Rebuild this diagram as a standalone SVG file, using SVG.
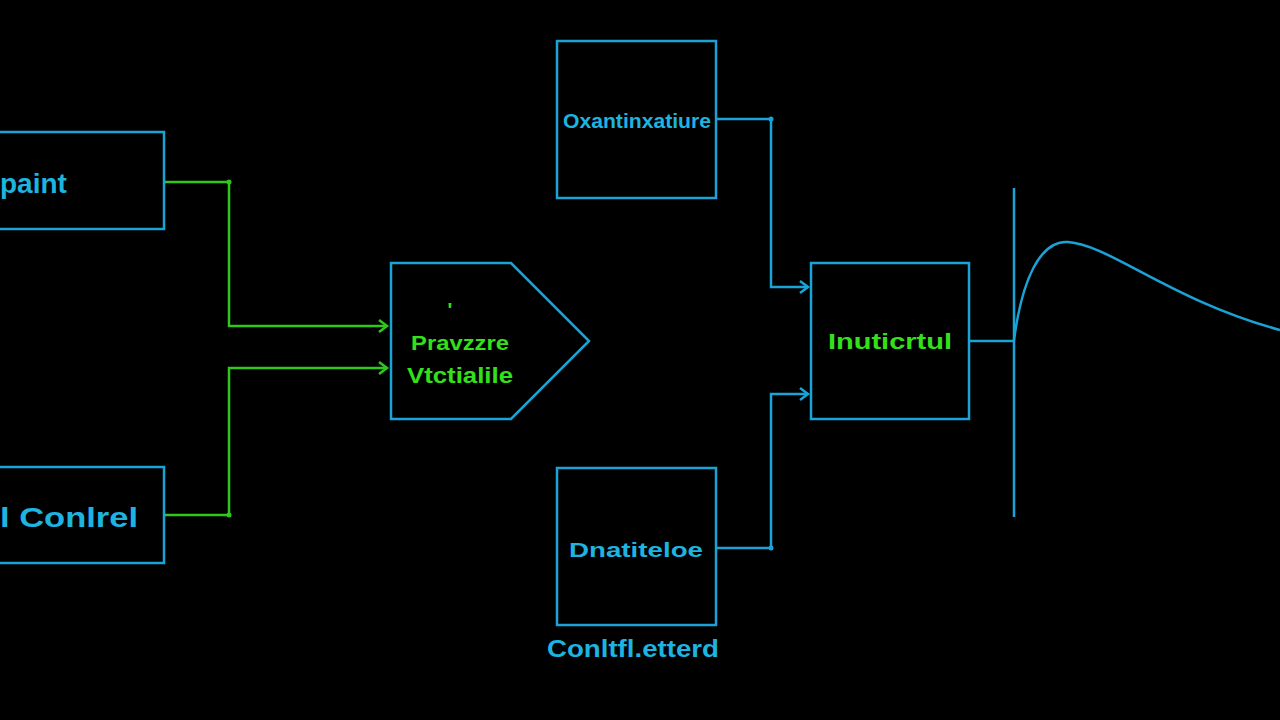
<svg xmlns="http://www.w3.org/2000/svg" width="1280" height="720" viewBox="0 0 1280 720">
<style>
.b{fill:#000;stroke:#1aa3d6;stroke-width:2.5}
.t{font-family:"Liberation Sans",Arial,sans-serif;font-weight:bold;fill:#1db4e0}
.g{font-family:"Liberation Sans",Arial,sans-serif;font-weight:bold;fill:#33e01a}
.cg{fill:none;stroke:#2fc81a;stroke-width:2.5}
.cb{fill:none;stroke:#1aa3d6;stroke-width:2.5}
</style>
<defs>
<marker id="ag" markerWidth="14" markerHeight="14" refX="10" refY="7" orient="auto" markerUnits="userSpaceOnUse"><path d="M2,1 L10,7 L2,13" fill="none" stroke="#2fc81a" stroke-width="2.5"/></marker>
<marker id="ab" markerWidth="14" markerHeight="14" refX="10" refY="7" orient="auto" markerUnits="userSpaceOnUse"><path d="M2,1 L10,7 L2,13" fill="none" stroke="#1aa3d6" stroke-width="2.5"/></marker>
</defs>
<rect width="1280" height="720" fill="#000"/>
<g id="connectors">
<path class="cg" d="M164,182 H229 V326 H387" marker-end="url(#ag)"/>
<path class="cg" d="M164,515 H229 V368 H387" marker-end="url(#ag)"/>
<circle cx="229" cy="182" r="2.5" fill="#2fc81a"/><circle cx="229" cy="515" r="2.5" fill="#2fc81a"/>
<path class="cb" d="M716,119 H771 V287 H808" marker-end="url(#ab)"/>
<path class="cb" d="M716,548 H771 V394 H808" marker-end="url(#ab)"/>
<circle cx="771" cy="119" r="2.5" fill="#1aa3d6"/><circle cx="771" cy="548" r="2.5" fill="#1aa3d6"/>
<path class="cb" d="M969,341 H1014"/>
</g>
<g id="n1"><rect class="b" x="-5" y="132" width="169" height="97"/><text class="t" x="0" y="193" font-size="28">paint</text></g>
<g id="n2"><rect class="b" x="-5" y="467" width="169" height="96"/><text class="t" x="0" y="527" font-size="28" textLength="138" lengthAdjust="spacingAndGlyphs">l Conlrel</text></g>
<g id="n3"><path class="b" d="M391,263 H511 L589,341 L511,419 H391 Z"/>
<text class="g" x="450" y="317" font-size="20" text-anchor="middle">'</text>
<text class="g" x="460" y="350" font-size="21" text-anchor="middle" textLength="98" lengthAdjust="spacingAndGlyphs">Pravzzre</text>
<text class="g" x="460" y="383" font-size="22" text-anchor="middle" textLength="106" lengthAdjust="spacingAndGlyphs">Vtctialile</text></g>
<g id="n4"><rect class="b" x="557" y="41" width="159" height="157"/><text class="t" x="637" y="128" font-size="21" text-anchor="middle" textLength="148" lengthAdjust="spacingAndGlyphs">Oxantinxatiure</text></g>
<g id="n5"><rect class="b" x="557" y="468" width="159" height="157"/><text class="t" x="636" y="557" font-size="21" text-anchor="middle" textLength="134" lengthAdjust="spacingAndGlyphs">Dnatiteloe</text>
<text class="t" x="633" y="657" font-size="23" text-anchor="middle" textLength="172" lengthAdjust="spacingAndGlyphs">Conltfl.etterd</text></g>
<g id="n6"><rect class="b" x="811" y="263" width="158" height="156"/><text class="g" x="890" y="349" font-size="22" text-anchor="middle" textLength="124" lengthAdjust="spacingAndGlyphs">Inuticrtul</text></g>
<g id="graph"><path class="cb" d="M1014,188 V517"/>
<path class="cb" stroke-width="3" d="M1014,340 C1022,280 1040,240 1068,242 C1110,245 1170,300 1280,330"/></g>
</svg>
